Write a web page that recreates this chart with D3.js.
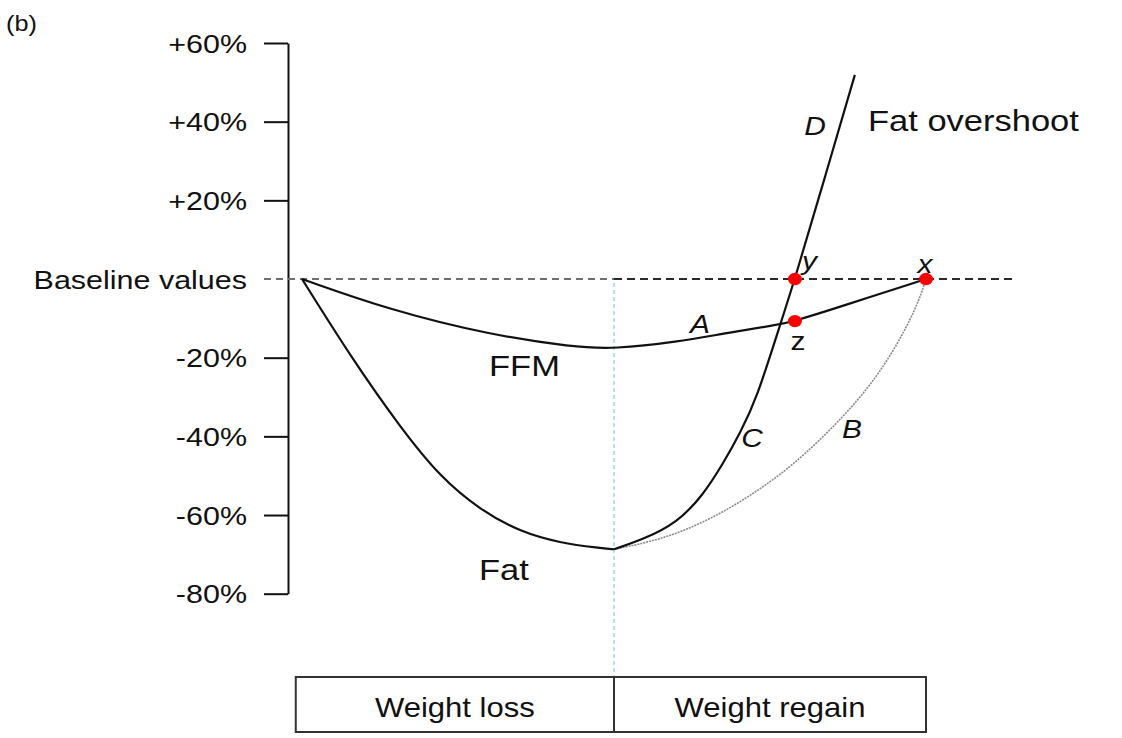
<!DOCTYPE html>
<html>
<head>
<meta charset="utf-8">
<script src="https://cdn.jsdelivr.net/npm/d3@7"></script>
<style>
  html, body { margin: 0; padding: 0; background: #fff; }
  svg { display: block; font-family: "Liberation Sans", Arial, sans-serif; }
  text { fill: #111; }
</style>
</head>
<body>
<svg id="chart" width="1122" height="738"></svg>
<script>
// ---------- data ----------
const yTicks = [60, 40, 20, 0, -20, -40, -60, -80];
const yTickLabels = ["+60%", "+40%", "+20%", "Baseline values", "-20%", "-40%", "-60%", "-80%"];

// time: 0 = start of weight loss, 1 = end of weight loss, 2 = end of weight regain
const ffmT = [0, 0.282, 0.603, 0.869, 1.0, 1.202, 1.362, 1.522, 1.58, 1.734, 2.0];
const ffmV = [0, -7.9, -14.2, -17.3, -17.8, -16.0, -13.7, -11.7, -10.7, -6.8, 0];

const fatLossT = [0, 0.163, 0.314, 0.442, 0.571, 0.699, 0.827, 0.955, 1.0];
const fatLossV = [0, -20.6, -37.6, -50.3, -58.7, -64.3, -67.1, -68.4, -68.7];

const fatOvershootT = [1.0, 1.093, 1.202, 1.285, 1.349, 1.404, 1.458, 1.532, 1.58, 1.676, 1.772];
const fatOvershootV = [-68.7, -66.2, -62.0, -55.0, -47.0, -39.2, -30.3, -11.7, 0, 25.9, 51.9];

const fatNormalT = [1.0, 1.147, 1.308, 1.468, 1.606, 1.788, 1.894, 1.971, 2.0];
const fatNormalV = [-68.7, -66.4, -61.3, -53.6, -45.3, -30.8, -18.8, -7.1, 0];

const pointNames = ["y", "z", "x"];
const pointT = [1.58, 1.58, 2.0];
const pointV = [0, -10.7, 0];

const phaseNames = ["Weight loss", "Weight regain"];
const phaseStart = [-0.02, 1.0];
const phaseEnd = [1.0, 2.0];

// ---------- setup ----------
const SX = 1.15; // horizontal stretch of the original artwork
const svg = d3.select("#chart");
const x = d3.scaleLinear().domain([0, 2]).range([302, 926]);
const y = d3.scaleLinear().domain([-80, 60]).range([593.7, 43]);
const axisX = 288;

function label(px, py, s, size, anchor, italic) {
  svg.append("text")
    .attr("transform", `translate(${px},${py}) scale(${SX},1)`)
    .attr("text-anchor", anchor || "start")
    .style("font-size", size + "px")
    .style("font-style", italic ? "italic" : "normal")
    .text(s);
}

const zip = (ts, vs) => ts.map((t, i) => [t, vs[i]]);
const line = d3.line().x(d => x(d[0])).y(d => y(d[1])).curve(d3.curveBasis);

// panel label
label(6, 31, "(b)", 22, "start", false);

// y axis
const yAxis = d3.axisLeft(y)
  .tickValues(yTicks)
  .tickSize(24)
  .tickSizeOuter(0)
  .tickFormat((d, i) => yTickLabels[i]);
const gAxis = svg.append("g").attr("transform", `translate(${axisX},0)`).call(yAxis);
gAxis.select(".domain").attr("stroke", "#111").attr("stroke-width", 2);
gAxis.selectAll(".tick line").attr("stroke", "#111").attr("stroke-width", 2)
  .attr("display", d => d === 0 ? "none" : null);
gAxis.selectAll(".tick text")
  .attr("x", 0).attr("dy", "0.34em")
  .attr("transform", `translate(-41,0) scale(${SX},1)`)
  .style("font-size", "26.5px")
  .style("font-family", '"Liberation Sans", Arial, sans-serif')
  .attr("fill", "#111");

// baseline dashed line
svg.append("line")
  .attr("x1", axisX - 24).attr("x2", x(1)).attr("y1", y(0)).attr("y2", y(0))
  .attr("stroke", "#6e6e6e").attr("stroke-width", 2.2).attr("stroke-dasharray", "7,5");
svg.append("line")
  .attr("x1", x(1)).attr("x2", 1015).attr("y1", y(0)).attr("y2", y(0))
  .attr("stroke", "#2a2a2a").attr("stroke-width", 2.2).attr("stroke-dasharray", "8,5");

// phase boxes
const boxTop = 677, boxBottom = 732;
// vertical divider (light blue dashed)
svg.append("line")
  .attr("x1", x(1)).attr("x2", x(1)).attr("y1", y(0) + 4).attr("y2", boxTop)
  .attr("stroke", "#9fd8e2").attr("stroke-width", 1.5).attr("stroke-dasharray", "4,3");

phaseNames.forEach((name, i) => {
  const x0 = x(phaseStart[i]), x1 = x(phaseEnd[i]);
  svg.append("rect")
    .attr("x", x0).attr("y", boxTop).attr("width", x1 - x0).attr("height", boxBottom - boxTop)
    .attr("fill", "none").attr("stroke", "#333").attr("stroke-width", 2);
  label((x0 + x1) / 2, 717, name, 27, "middle", false);
});

// curves
svg.append("path").datum(zip(ffmT, ffmV)).attr("d", line)
  .attr("fill", "none").attr("stroke", "#111").attr("stroke-width", 2.2);
svg.append("path").datum(zip(fatLossT, fatLossV)).attr("d", line)
  .attr("fill", "none").attr("stroke", "#111").attr("stroke-width", 2.2);
svg.append("path").datum(zip(fatNormalT, fatNormalV)).attr("d", line)
  .attr("fill", "none").attr("stroke", "#8a8a8a").attr("stroke-width", 1.6).attr("stroke-dasharray", "2,1");
svg.append("path").datum(zip(fatOvershootT, fatOvershootV)).attr("d", line)
  .attr("fill", "none").attr("stroke", "#111").attr("stroke-width", 2.2);

// points
pointNames.forEach((n, i) => {
  svg.append("ellipse")
    .attr("cx", x(pointT[i])).attr("cy", y(pointV[i]))
    .attr("rx", 7).attr("ry", 6.2).attr("fill", "#ff0000");
});
// point labels
label(x(pointT[0]) + 7, y(pointV[0]) - 9, "y", 26, "start", true);
label(x(pointT[1]) + 3, y(pointV[1]) + 29, "z", 26, "middle", false);
label(x(pointT[2]) - 1, y(pointV[2]) - 6, "x", 26, "middle", true);

// curve annotations
label(489, 376, "FFM", 30, "start", false);
label(479, 580, "Fat", 30, "start", false);
label(868, 131, "Fat overshoot", 30, "start", false);
label(700, 333, "A", 26, "middle", true);
label(852, 438, "B", 26, "middle", true);
label(752, 447, "C", 26, "middle", true);
label(815, 135, "D", 26, "middle", true);
</script>
</body>
</html>
